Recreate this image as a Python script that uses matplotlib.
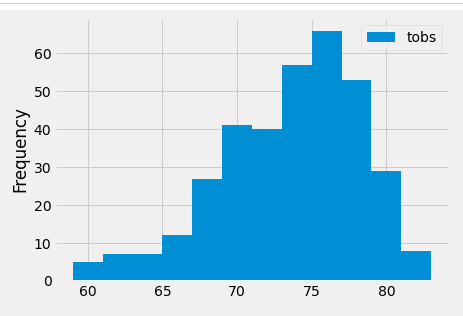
import numpy as np
import matplotlib.pyplot as plt
from matplotlib.patches import Rectangle

plt.style.use('fivethirtyeight')

bin_edges = [59, 61, 63, 65, 67, 69, 71, 73, 75, 77, 79, 81, 83]
counts = [5, 7, 7, 12, 27, 41, 40, 57, 66, 53, 29, 8]

centers = [(a + b) / 2 for a, b in zip(bin_edges[:-1], bin_edges[1:])]

fig = plt.figure(figsize=(463 / 72, 316 / 72), dpi=72)
# white notebook strip at the top with a thin gray rule
fig.patches.append(Rectangle((0, 1 - 10 / 316), 1, 10 / 316, transform=fig.transFigure,
                             facecolor='white', edgecolor='none', zorder=0))
fig.patches.append(Rectangle((0, 1 - 4 / 316), 1, 1 / 316, transform=fig.transFigure,
                             facecolor='#cccccc', edgecolor='none', zorder=1))

ax = fig.add_axes([55 / 463, 1 - 281 / 316, 394 / 463, 263 / 316])
ax.hist(centers, bins=bin_edges, weights=counts, label='tobs')
ax.set_ylabel('Frequency')
ax.set_xticks([60, 65, 70, 75, 80])
ax.legend(loc='upper right')

plt.savefig('out.png', dpi=72)
